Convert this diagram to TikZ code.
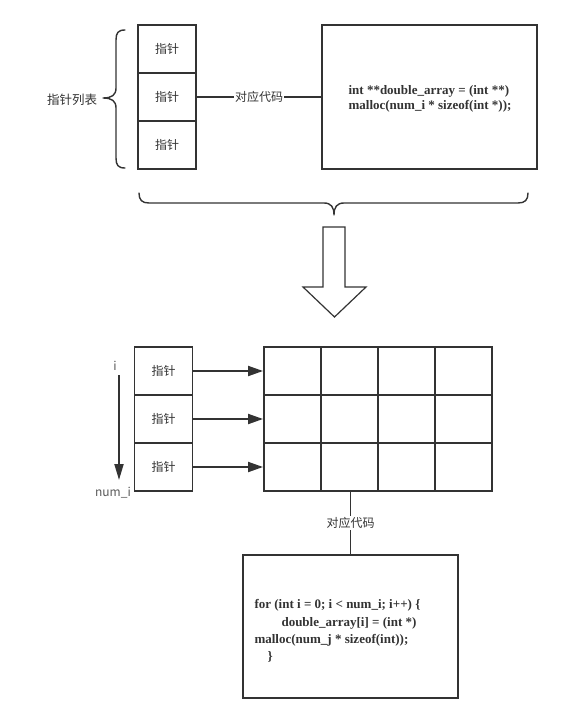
\documentclass[tikz,border=0pt]{standalone}
\usepackage{fontspec}
\setmainfont{Liberation Serif}
\newfontfamily\cjk{Noto Sans CJK SC}
\usetikzlibrary{arrows.meta}
\definecolor{ln}{HTML}{333333}
\definecolor{lbl}{HTML}{5A5A5A}
\tikzset{
  box/.style={draw=ln, line width=1.9pt, minimum width=58pt, minimum height=48pt, inner sep=0pt, font=\cjk\fontsize{12}{14}\selectfont, text=ln},
  cell/.style={draw=ln, line width=1.9pt, minimum width=57pt, minimum height=48pt, inner sep=0pt},
  codebox/.style={draw=ln, line width=1.9pt, minimum width=215pt, minimum height=144pt, inner sep=0pt},
  conn/.style={draw=ln, line width=1.9pt},
  arr/.style={draw=ln, line width=1.9pt, -{Triangle[length=15pt,width=10pt]}},
  lab/.style={fill=white, inner sep=1pt, font=\cjk\fontsize{12}{14}\selectfont, text=ln},
  brace/.style={draw=ln, line width=1.4pt, line cap=round, line join=round},
}
\begin{document}
\begin{tikzpicture}[x=1pt,y=-1pt]
\useasboundingbox[fill=white] (0,0) rectangle (561,725);

% ---------- top part ----------
\node[box] (p1) at (167,49) {指针};
\node[box] (p2) at (167,97) {指针};
\node[box] (p3) at (167,145) {指针};
\node[codebox] (c1) at (429.5,97) {};
\node[font=\bfseries\fontsize{13}{14.5}\selectfont, align=left, text=ln] (c1t) at (430,99)
  {int **double\_array = (int **)\\malloc(num\_i * sizeof(int *));};
\draw[conn] (p2.east) -- node[lab] (l1) {对应代码} (c1.west);

% left brace
\draw[brace] (125,30) .. controls (118,30) and (116,33) .. (116,40)
  -- (116,88) .. controls (116,95) and (112,98) .. (103,98)
  .. controls (112,98) and (116,101) .. (116,108)
  -- (116,158) .. controls (116,165) and (118,168) .. (125,168);
\node[font=\cjk\fontsize{12.5}{14}\selectfont, text=ln] (plist) at (72,100) {指针列表};

% horizontal brace
\draw[brace] (139,193) .. controls (139,200) and (142,203) .. (149,203)
  -- (324,203) .. controls (331,203) and (334,207) .. (334,215)
  .. controls (334,207) and (337,203) .. (344,203)
  -- (518,203) .. controls (525,203) and (528,200) .. (528,193);

% big hollow arrow
\draw[draw=ln, line width=1.2pt, fill=white, line join=miter]
  (323,227) -- (345,227) -- (345,287) -- (366,287) -- (334.5,317) -- (303,287) -- (323,287) -- cycle;

% ---------- bottom part ----------
\node[box] (q1) at (163.5,371) {指针};
\node[box] (q2) at (163.5,419) {指针};
\node[box] (q3) at (163.5,467) {指针};

\foreach \r/\yy in {1/371,2/419,3/467}{
  \foreach \c/\xx in {1/292.5,2/349.5,3/406.5,4/463.5}{
    \node[cell] (g-\r-\c) at (\xx,\yy) {};
  }
}
\draw[arr] (q1.east) -- (g-1-1.west);
\draw[arr] (q2.east) -- (g-2-1.west);
\draw[arr] (q3.east) -- (g-3-1.west);

\node[font=\cjk\fontsize{12}{14}\selectfont, text=lbl] (ilab) at (115,366) {i};
\node[font=\cjk\fontsize{12}{14}\selectfont, text=lbl] (numi) at (113,493) {num\_i};
\coordinate (ia) at (119,375);
\coordinate (ib) at (119,480);
\draw[draw=ln, line width=1.9pt, -{Triangle[length=16pt,width=9pt]}] (ia) -- (ib);

\node[codebox, minimum height=143pt] (c2) at (350.5,626.5) {};
\node[font=\bfseries\fontsize{13}{17.3}\selectfont, align=left, text=ln, anchor=west] (c2t) at (251,631)
  {for (int i = 0; i < num\_i; i++) \{\\
   \hspace*{27pt}double\_array[i] = (int *)\\
   malloc(num\_j * sizeof(int));\\
   \hspace*{13pt}\}};
\draw[conn] (c2.north) -- node[lab] (l2) {对应代码} (c2.north |- g-3-2.south);
\end{tikzpicture}
\end{document}
